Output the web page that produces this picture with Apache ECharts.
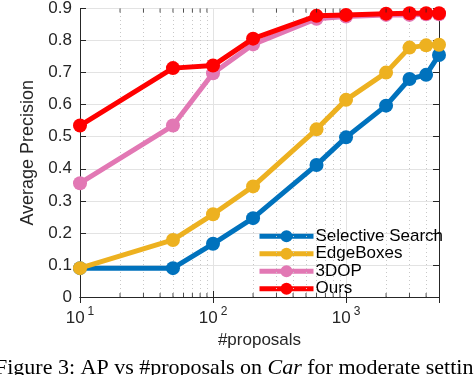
<!DOCTYPE html>
<html><head><meta charset="utf-8">
<script src="https://cdn.jsdelivr.net/npm/echarts@6/dist/echarts.min.js"></script>
<style>html,body{margin:0;padding:0;background:#fff}#c{width:474px;height:375px}</style>
</head><body><div id="c"></div>
<script>
const proposals = [10, 50, 100, 200, 600, 1000, 2000, 3000, 4000, 5000];
const selectiveSearch = [0.09, 0.09, 0.166, 0.246, 0.412, 0.498, 0.597, 0.68, 0.693, 0.755];
const edgeBoxes = [0.09, 0.178, 0.258, 0.345, 0.523, 0.615, 0.70, 0.778, 0.785, 0.787];
const dop3 = [0.355, 0.535, 0.698, 0.788, 0.868, 0.875, 0.88, 0.88, 0.882, 0.882];
const ours = [0.535, 0.714, 0.722, 0.806, 0.877, 0.88, 0.884, 0.885, 0.885, 0.885];
const seriesNames = ['Selective Search', 'EdgeBoxes', '3DOP', 'Ours'];
const seriesColors = ['#0072BD', '#EDB120', '#E278B4', '#FF0000'];
const yTicks = [0, 0.1, 0.2, 0.3, 0.4, 0.5, 0.6, 0.7, 0.8, 0.9];
const minorX = [20,30,40,50,60,70,80,90,200,300,400,500,600,700,800,900,2000,3000,4000];
const xLabel = '#proposals';
const yLabel = 'Average Precision';

const chart = echarts.init(document.getElementById('c'), null, {renderer: 'canvas'});
const font = 'Liberation Sans';
const dark = '#262626';
const allSeries = [selectiveSearch, edgeBoxes, dop3, ours];

const lineSeries = allSeries.map((vals, i) => ({
  name: seriesNames[i], type: 'line', xAxisIndex: 0, yAxisIndex: 0,
  data: proposals.map((p, k) => [p, vals[k]]),
  symbol: 'circle', symbolSize: 14,
  lineStyle: {width: 5, color: seriesColors[i]},
  itemStyle: {color: seriesColors[i]},
  z: 10 + i, animation: false
}));

const helper = {
  type: 'scatter', xAxisIndex: 0, yAxisIndex: 0, data: [], symbolSize: 0, silent: true,
  markLine: {
    symbol: 'none', silent: true, label: {show: false}, animation: false,
    lineStyle: {type: [1, 3], color: '#c8c8c8', width: 1},
    data: minorX.map(v => ({xAxis: v}))
  },
  z: 1, animation: false
};
const tickBottom = {
  type: 'scatter', xAxisIndex: 0, yAxisIndex: 0, silent: true, clip: false,
  data: minorX.map(v => [v, 0]),
  symbol: 'rect', symbolSize: [1, 4], symbolOffset: [0, -2],
  itemStyle: {color: dark}, z: 20, animation: false
};
const tickTop = {
  type: 'scatter', xAxisIndex: 0, yAxisIndex: 0, silent: true, clip: false,
  data: minorX.map(v => [v, 0.9]),
  symbol: 'rect', symbolSize: [1, 4], symbolOffset: [0, 2],
  itemStyle: {color: dark}, z: 20, animation: false
};

chart.setOption({
  animation: false,
  grid: {left: 80, right: 35, top: 5, bottom: 78, containLabel: false},
  legend: {
    data: seriesNames, left: 257, top: 227.5, orient: 'vertical',
    itemWidth: 54, itemHeight: 15, itemGap: 0,
    lineStyle: {width: 5},
    textStyle: {fontFamily: font, fontSize: 17, color: '#000', lineHeight: 17.5, padding: [0, 0, 0, -3]},
    padding: 0
  },
  xAxis: [{
    type: 'log', logBase: 10, min: 10, max: 5000,
    name: xLabel, nameLocation: 'middle', nameGap: 33,
    nameTextStyle: {fontFamily: font, fontSize: 17, color: dark},
    axisLine: {show: true, lineStyle: {color: dark, width: 1}},
    axisTick: {show: true, inside: true, length: 6, lineStyle: {color: dark}},
    splitLine: {show: true, lineStyle: {color: '#e3e3e3', width: 1}},
    minorTick: {show: false}, minorSplitLine: {show: false},
    axisLabel: {
      showMaxLabel: false, margin: 9,
      formatter: v => { const e = Math.log10(v); return Math.abs(e - Math.round(e)) < 1e-9 ? '{b|10}{s|' + Math.round(e) + '}' : ''; },
      rich: {
        b: {fontFamily: font, fontSize: 17, color: dark},
        s: {fontFamily: font, fontSize: 12, color: dark, verticalAlign: 'top', padding: [0, 0, 12, 3]}
      }
    }
  }, {
    type: 'log', logBase: 10, min: 10, max: 5000, position: 'top',
    axisLine: {show: true, lineStyle: {color: dark, width: 1}},
    axisTick: {show: true, inside: true, length: 6, lineStyle: {color: dark}},
    axisLabel: {show: false}, splitLine: {show: false}
  }],
  yAxis: [{
    type: 'value', min: 0, max: 0.9, interval: 0.1,
    name: yLabel, nameLocation: 'middle', nameGap: 26,
    nameTextStyle: {fontFamily: font, fontSize: 18, color: dark},
    axisLine: {show: true, lineStyle: {color: dark, width: 1}},
    axisTick: {show: true, inside: true, length: 6, lineStyle: {color: dark}},
    splitLine: {show: true, lineStyle: {color: '#e3e3e3', width: 1}},
    axisLabel: {fontFamily: font, fontSize: 17, color: dark, margin: 8,
      formatter: v => { const t = yTicks.find(x => Math.abs(x - v) < 1e-9); return t === undefined ? '' : (t === 0 ? '0' : t.toFixed(1)); }}
  }, {
    type: 'value', min: 0, max: 0.9, interval: 0.1, position: 'right',
    axisLine: {show: true, lineStyle: {color: dark, width: 1}},
    axisTick: {show: true, inside: true, length: 6, lineStyle: {color: dark}},
    axisLabel: {show: false}, splitLine: {show: false}
  }],
  series: [helper, tickBottom, tickTop, ...lineSeries],
  graphic: [{
    type: 'text', left: -5, top: 357, silent: true,
    style: {
      text: '{n|Figure 3: AP vs #proposals on }{i|Car}{n| for moderate setting}',
      rich: {
        n: {fontFamily: 'Liberation Serif', fontSize: 22, fill: '#000'},
        i: {fontFamily: 'Liberation Serif', fontSize: 22, fontStyle: 'italic', fill: '#000'}
      }
    }
  }]
});
</script></body></html>
